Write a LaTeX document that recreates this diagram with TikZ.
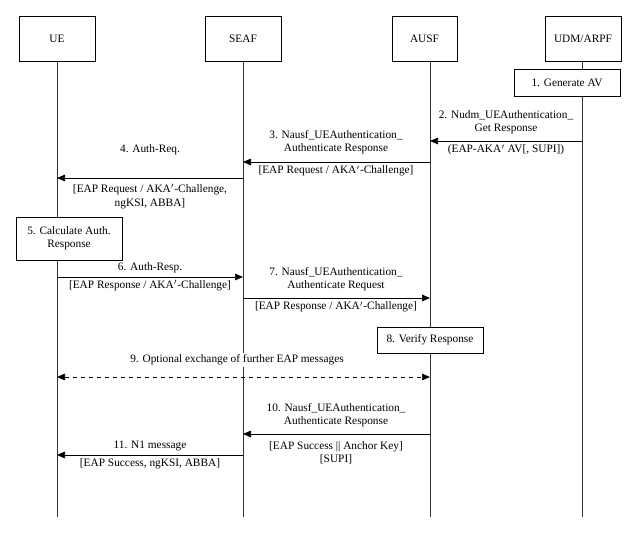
\documentclass[tikz,border=0pt]{standalone}
\usepackage{fontspec}
\setmainfont{Liberation Serif}
\usetikzlibrary{arrows.meta}
\begin{document}
\begin{tikzpicture}[x=0.75pt,y=-0.75pt,
  font=\fontsize{8.5}{10}\selectfont,
  hdr/.style={draw,minimum width=57pt,minimum height=33.75pt,inner sep=0},
  stp/.style={draw,fill=white,align=center,inner sep=2pt},
  life/.style={draw=black!80,line width=0.6pt},
  msg/.style={draw,-{Triangle[length=6pt,width=5pt]},line width=0.5pt},
  lbl/.style={align=center,inner sep=0}]
\useasboundingbox (0,0) rectangle (625,543);
\node[hdr] (ue) at (57,38.5) {UE};
\node[hdr] (seaf) at (243,38.5) {SEAF};
\node[hdr,minimum width=48.75pt] (ausf) at (424.5,38.5) {AUSF};
\node[hdr] (udm) at (583,38.5) {UDM/ARPF};
\coordinate (ueE) at (57,517);
\coordinate (seE) at (243,517);
\coordinate (auE) at (430,517);
\coordinate (udE) at (582,517);
\draw[life] (ue.south) -- (ueE);
\draw[life] (seaf.south) -- (seE);
\draw[life] (430,61) -- (auE);
\draw[life] (582,61) -- (udE);
\node[stp,minimum width=79.5pt,minimum height=20pt] (s1) at (567,82.5) {1. Generate AV};
\node[stp,minimum width=79.5pt,minimum height=32pt] (s5) at (69,238.5) {5. Calculate Auth.\\Response};
\node[stp,minimum width=79.5pt,minimum height=19.5pt] (s8) at (430,340) {8. Verify Response};
% 2
\coordinate (a2s) at (582,141); \coordinate (a2e) at (430,141);
\draw[msg] (a2s) -- (a2e);
\node[lbl] (l2a) at (506,122) {2. Nudm\_UEAuthentication\_\\Get Response};
\node[lbl] (l2b) at (506,150) {(EAP-AKA$'$ AV[, SUPI])};
% 3
\coordinate (a3s) at (430,162); \coordinate (a3e) at (243,162);
\draw[msg] (a3s) -- (a3e);
\node[lbl] (l3a) at (336,142) {3. Nausf\_UEAuthentication\_\\Authenticate Response};
\node[lbl] (l3b) at (336,171) {[EAP Request / AKA$'$-Challenge]};
% 4
\coordinate (a4s) at (243,178); \coordinate (a4e) at (57,178);
\draw[msg] (a4s) -- (a4e);
\node[lbl] (l4a) at (150,150) {4. Auth-Req.};
\node[lbl] (l4b) at (150,196.5) {[EAP Request / AKA$'$-Challenge,\\ngKSI, ABBA]};
% 6
\coordinate (a6s) at (57,277); \coordinate (a6e) at (243,277);
\draw[msg] (a6s) -- (a6e);
\node[lbl] (l6a) at (150,268) {6. Auth-Resp.};
\node[lbl] (l6b) at (150,285.5) {[EAP Response / AKA$'$-Challenge]};
% 7
\coordinate (a7s) at (243,298); \coordinate (a7e) at (430,298);
\draw[msg] (a7s) -- (a7e);
\node[lbl] (l7a) at (336,279) {7. Nausf\_UEAuthentication\_\\Authenticate Request};
\node[lbl] (l7b) at (336,307) {[EAP Response / AKA$'$-Challenge]};
% 9
\coordinate (a9s) at (57,377); \coordinate (a9e) at (430,377);
\draw[msg,{Triangle[length=6pt,width=5pt]}-{Triangle[length=6pt,width=5pt]},dashed] (a9s) -- (a9e);
\node[lbl,fill=white,inner sep=1pt] (l9) at (237,360) {9. Optional exchange of further EAP messages};
% 10
\coordinate (a10s) at (430,434); \coordinate (a10e) at (243,434);
\draw[msg] (a10s) -- (a10e);
\node[lbl] (l10a) at (336,415.5) {10. Nausf\_UEAuthentication\_\\Authenticate Response};
\node[lbl] (l10b) at (336,452.5) {[EAP Success || Anchor Key]\\{}[SUPI]};
% 11
\coordinate (a11s) at (243,455); \coordinate (a11e) at (57,455);
\draw[msg] (a11s) -- (a11e);
\node[lbl] (l11a) at (150,446) {11. N1 message};
\node[lbl] (l11b) at (150,464) {[EAP Success, ngKSI, ABBA]};
\end{tikzpicture}
\end{document}
